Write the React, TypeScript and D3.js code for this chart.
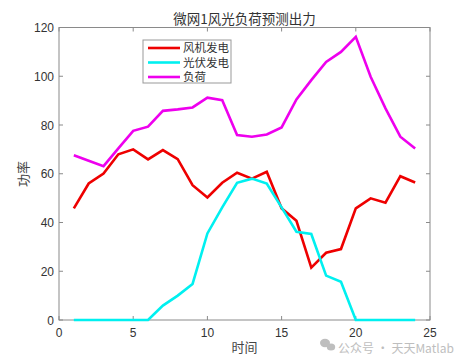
import React, { useRef, useEffect } from 'react';
import * as d3 from 'd3';

const hours = d3.range(1, 25);
const wind = [45.8, 56, 60.1, 68, 70, 65.9, 69.7, 66, 55.3, 50.3, 56.3, 60.4, 58, 60.8, 45.8, 40.7, 21.5, 27.6, 29.1, 45.8, 49.9, 48.1, 59, 56.4];
const pv = [0, 0, 0, 0, 0, 0, 5.9, 10, 14.8, 35.5, 46.2, 56.3, 58, 56, 46.2, 36.2, 35.3, 18.2, 15.7, 0, 0, 0, 0, 0];
const load = [67.6, 65.3, 63.1, 70.4, 77.6, 79.3, 85.8, 86.4, 87.2, 91.2, 90.2, 75.9, 75.2, 76.1, 79, 90.5, 98.4, 105.9, 110, 116.2, 99.8, 86.8, 75.2, 70.4];
const seriesNames = ['风机发电', '光伏发电', '负荷'];
const seriesColors = ['#ee0000', '#00f0f0', '#ee00ee'];
const xTicks = [0, 5, 10, 15, 20, 25];
const yTicks = [0, 20, 40, 60, 80, 100, 120];

const W = 474, H = 359;
const left = 59, right = 430, top = 27.5, bottom = 320;

const App = () => {
  const ref = useRef<SVGGElement>(null);

  useEffect(() => {
    const g = d3.select(ref.current);
    g.selectAll('*').remove();
    const x = d3.scaleLinear().domain([0, 25]).range([left, right]);
    const y = d3.scaleLinear().domain([0, 120]).range([bottom, top]);
    const axisCol = '#8a8a8a';
    const txtCol = '#333';

    // box
    g.append('rect').attr('x', left).attr('y', top).attr('width', right - left).attr('height', bottom - top)
      .attr('fill', 'white').attr('stroke', axisCol).attr('stroke-width', 1);

    // ticks (inner, mirrored)
    xTicks.forEach(t => {
      g.append('line').attr('x1', x(t)).attr('x2', x(t)).attr('y1', bottom).attr('y2', bottom - 4).attr('stroke', axisCol);
      g.append('line').attr('x1', x(t)).attr('x2', x(t)).attr('y1', top).attr('y2', top + 4).attr('stroke', axisCol);
      g.append('text').attr('x', x(t)).attr('y', bottom + 17).attr('text-anchor', 'middle')
        .attr('font-size', 12).attr('fill', txtCol).text(t);
    });
    yTicks.forEach(t => {
      g.append('line').attr('x1', left).attr('x2', left + 4).attr('y1', y(t)).attr('y2', y(t)).attr('stroke', axisCol);
      g.append('line').attr('x1', right).attr('x2', right - 4).attr('y1', y(t)).attr('y2', y(t)).attr('stroke', axisCol);
      g.append('text').attr('x', left - 5).attr('y', y(t) + 4.5).attr('text-anchor', 'end')
        .attr('font-size', 12).attr('fill', txtCol).text(t);
    });

    const line = d3.line<number>().x((d, i) => x(hours[i])).y(d => y(d));
    [wind, pv, load].forEach((s, k) => {
      g.append('path').datum(s).attr('d', line).attr('fill', 'none')
        .attr('stroke', seriesColors[k]).attr('stroke-width', 2.6).attr('stroke-linejoin', 'miter');
    });

    // legend
    const lg = g.append('g').attr('transform', 'translate(143,40)');
    lg.append('rect').attr('width', 88).attr('height', 43).attr('fill', 'white').attr('stroke', '#999');
    seriesNames.forEach((n, i) => {
      const yy = 8 + i * 14.5;
      lg.append('line').attr('x1', 5).attr('x2', 37).attr('y1', yy).attr('y2', yy)
        .attr('stroke', seriesColors[i]).attr('stroke-width', 2.6);
      lg.append('text').attr('x', 40).attr('y', yy + 4.2).attr('font-size', 11.5).attr('fill', txtCol).text(n);
    });
  }, []);

  const cjk = '"Noto Sans CJK SC", sans-serif';
  return (
    <svg width={W} height={H} style={{ position: 'absolute', left: 0, top: 0, background: 'white' }}
      fontFamily={`"Liberation Sans", Arial, ${cjk}`}>
      <g ref={ref} />
      <text x={(left + right) / 2} y={24} textAnchor="middle" fontSize={13.5} fill="#333" fontFamily={cjk}>
        微网1风光负荷预测出力
      </text>
      <text x={(left + right) / 2} y={352} textAnchor="middle" fontSize={13} fill="#444" fontFamily={cjk}>
        时间
      </text>
      <text transform="translate(28,174) rotate(-90)" textAnchor="middle" fontSize={13} fill="#444" fontFamily={cjk}>
        功率
      </text>
      <g fill="#b8b8b8" opacity={0.9}>
        <ellipse cx={325} cy={343} rx={5} ry={4.2} />
        <ellipse cx={331} cy={347} rx={4.2} ry={3.5} />
        <text x={338} y={353} fontSize={12} fontFamily={cjk}>公众号 · 天天Matlab</text>
      </g>
    </svg>
  );
};

export default App;
